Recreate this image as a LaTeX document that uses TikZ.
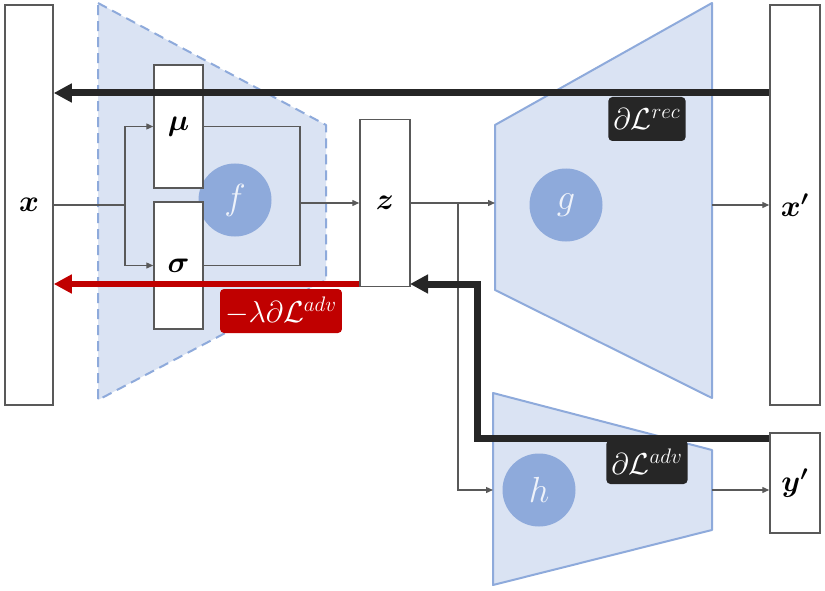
\documentclass[tikz,border=0pt]{standalone}
\usepackage{amsmath,amssymb,bm}
\usepackage{graphicx}
\usepackage{tikz}
\usetikzlibrary{arrows.meta,positioning,calc}
\definecolor{boxgray}{RGB}{89,89,89}
\definecolor{netfill}{RGB}{218,227,243}
\definecolor{netline}{RGB}{142,170,219}
\definecolor{advred}{RGB}{192,0,0}
\definecolor{graddark}{RGB}{38,38,38}
\newcommand{\veclbl}[1]{\scalebox{1.75}{$\bm{#1}$}}
\newcommand{\unitlbl}[1]{\scalebox{2.1}{$#1$}}
\newcommand{\gradlbl}[1]{\scalebox{1.75}{$#1$}}
\begin{document}
\begin{tikzpicture}[x=1pt, y=-1pt,
  every node/.style={font=\LARGE},
  vec/.style={draw=boxgray, line width=1.5pt, fill=white, inner sep=0pt},
  net/.style={fill=netfill, draw=netline, line width=2pt, line join=round},
  unit/.style={circle, fill=netline, minimum size=73pt, inner sep=0pt, text=white!85!netline},
  arr/.style={-{Triangle[length=7pt,width=6pt]}, boxgray, line width=1.3pt},
  grad/.style={-{Triangle[length=18pt,width=18pt]}, graddark, line width=7pt},
  glabel/.style={fill=graddark, text=white, rounded corners=4pt, inner sep=5pt, minimum height=44pt},
]
\useasboundingbox (0,0) rectangle (825,591);
% networks
\draw[net, dashed, dash pattern=on 10pt off 6pt] (98,3) -- (326,125) -- (326,280) -- (98,400) -- cycle;
\draw[net] (495,125) -- (712,3) -- (712,398) -- (495,290) -- cycle;
\draw[net] (493,393) -- (712,450) -- (712,530) -- (493,585) -- cycle;
\node[unit] (fc) at (235,200) {\unitlbl{f}};
\node[unit] (gc) at (566,205) {\unitlbl{g}};
\node[unit] (hc) at (539,490) {\unitlbl{h}};
% vectors
\node[vec, minimum width=48pt, minimum height=400pt] (x) at (29,205) {\veclbl{x}};
\node[vec, minimum width=49pt, minimum height=123pt] (mu) at (178.5,126.5) {\veclbl{\mu}};
\node[vec, minimum width=49pt, minimum height=127pt] (sigma) at (178.5,265.5) {\veclbl{\sigma}};
\node[vec, minimum width=50pt, minimum height=167pt] (z) at (385,203) {\veclbl{z}};
\node[vec, minimum width=50pt, minimum height=400pt] (xp) at (795,205) {\veclbl{x'}};
\node[vec, minimum width=50pt, minimum height=100pt] (yp) at (795,483) {\veclbl{y'}};
% forward connectors
\coordinate (split) at (125,205);
\coordinate (merge) at (300,203);
\coordinate (zsplit) at (458,203);
\coordinate (gin) at (495,203);
\coordinate (hin) at (493,490);
\coordinate (gout) at (712,205);
\coordinate (hout) at (712,490);
\draw[boxgray, line width=1.3pt] (x.east |- split) -- (split);
\draw[arr] (split) |- (mu.west);
\draw[arr] (split) |- (sigma.west);
\draw[boxgray, line width=1.3pt] (mu.east) -| (merge) |- (sigma.east);
\draw[arr] (merge) -- (z.west |- merge);
\draw[arr] (z.east |- zsplit) -- (zsplit) -- (gin);
\draw[arr] (zsplit) |- (hin);
\draw[arr] (gout) -- (xp.west |- gout);
\draw[arr] (hout) -- (yp.west |- hout);
% gradients
\coordinate (rec) at (400,93);
\coordinate (adv) at (477,438);
\coordinate (zin) at (410,284);
\draw[grad] (xp.west |- rec) -- (x.east |- rec);
\draw[grad, advred, line width=6pt] (z.west |- zin) -- (x.east |- zin);
\draw[grad] (yp.west |- adv) -- (adv) |- (zin);
\node[glabel] (lrec) at (647,119) {\gradlbl{\partial\mathcal{L}^{rec}}};
\node[glabel, fill=advred] (lred) at (281,311) {\gradlbl{-\lambda\partial\mathcal{L}^{adv}}};
\node[glabel] (ladv) at (647,462) {\gradlbl{\partial\mathcal{L}^{adv}}};
\end{tikzpicture}
\end{document}
